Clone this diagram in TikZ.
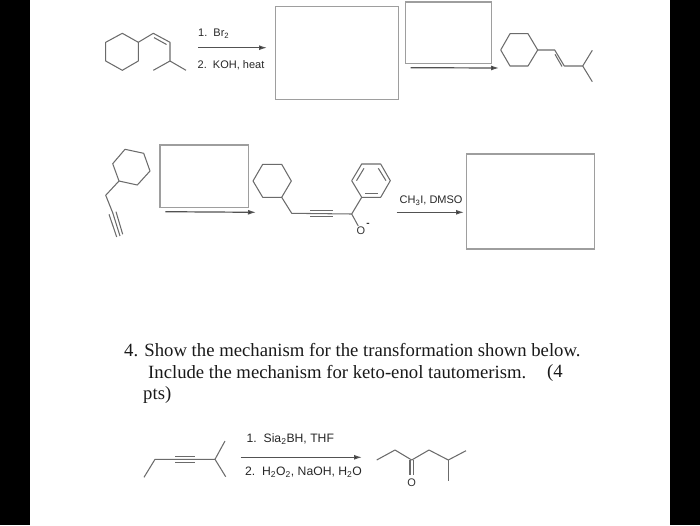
\documentclass[tikz,border=0pt]{standalone}
\usepackage{fontspec}
\setmainfont{Liberation Serif}
\setsansfont{Liberation Sans}
\usetikzlibrary{arrows.meta}
\tikzset{
    bond/.style={draw=black!58, line width=1.05pt, line join=round},
    answerbox/.style={draw=black!38, line width=1.1pt, fill=white, inner sep=0pt},
    rxnarrow/.style={draw=black!68, line width=1.2pt, -{Latex[length=8pt,width=5pt,fill=black!90]}},
    reagent/.style={font=\sffamily\fontsize{11}{13}\selectfont, text=black!85, anchor=west, inner sep=0pt},
    bigreagent/.style={reagent, font=\sffamily\fontsize{12.2}{14}\selectfont},
    question/.style={font=\fontsize{18.7}{22}\selectfont, text=black!90, anchor=west, inner sep=0pt},
    atom/.style={font=\sffamily\fontsize{11}{13}\selectfont, text=black!80, inner sep=1pt}
}
\begin{document}
\begin{tikzpicture}[x=1pt,y=-1pt]
    \useasboundingbox (0,0) rectangle (700,525);
    % side bars
    \fill[black] (0,0) rectangle (30,525);
    \fill[black] (670,0) rectangle (700,525);

    % first row, answer boxes
    \draw[answerbox] (275.3,6.3) rectangle (398.7,99.5);
    \draw[answerbox] (405.7,2) rectangle (491.3,63.3);

    % starting alkene
    \draw[bond] (105.7,42.3) -- (122.3,33.3) -- (138.3,42.3) -- (138.3,61) -- (122.3,70.3) -- (105.7,61) -- cycle;
    \draw[bond] (138.3,42.3) -- (153.3,33.3) -- (170,42.3) -- (170,61) -- (153.3,70.3);
    \draw[bond] (170,61) -- (186,70.3);
    \draw[bond] (154,37.6) -- (166.5,44.5);

    \coordinate (brstart) at (198.3,47.7);
    \coordinate (brend) at (267,47.7);
    \draw[rxnarrow] (brstart) -- (brend);
    \node[reagent] (brone) at (198,34) {1.\ \ Br\textsubscript{2}};
    \node[reagent] (brtwo) at (197.5,65) {2.\ \ KOH, heat};

    \coordinate (emptystart) at (410.7,67.7);
    \coordinate (emptyend) at (499,68);
    \draw[rxnarrow] (emptystart) -- (emptyend);

    % product alkene
    \draw[bond] (510,33.7) -- (528,33.7) -- (537.7,50) -- (528,66) -- (510,66) -- (500.7,50) -- cycle;
    \draw[bond] (537.7,50) -- (554.7,50) -- (564.3,66) -- (582.7,66) -- (592.3,50.3);
    \draw[bond] (582.7,66) -- (592.3,81.7);
    \draw[bond] (555,54.3) -- (562,66.5);

    % second row, answer boxes
    \draw[answerbox] (160,145) rectangle (248.7,207.3);
    \draw[answerbox] (466.7,154) rectangle (594.3,249);

    % terminal alkyne
    \draw[bond] (125,149.3) -- (143.7,153.3) -- (150,171) -- (137.3,185) -- (119,181) -- (112.7,163.7) -- cycle;
    \draw[bond] (119,181) -- (105.7,195.3) -- (112.7,212.7) -- (120,236);
    \draw[bond] (109,214.3) -- (116.7,237);
    \draw[bond] (116,211.7) -- (122.7,234.3);

    \coordinate (alkstart) at (165.3,211.7);
    \coordinate (alkend) at (256,212.3);
    \draw[rxnarrow] (alkstart) -- (alkend);

    % alkoxide
    \draw[bond] (262.7,164.3) -- (281.7,164.3) -- (291.3,181) -- (281.7,197.3) -- (262.7,197.3) -- (253,181) -- cycle;
    \draw[bond] (281.7,197.3) -- (291.7,213.3) -- (351.7,214) -- (361.7,197.3);
    \draw[bond] (310,210.6) -- (333.3,210.6);
    \draw[bond] (310,216.6) -- (333.3,216.6);
    \draw[bond] (361.7,197.3) -- (351.7,180.7) -- (361.7,164) -- (380.7,164) -- (390.3,180.7) -- (380.7,197.3) -- cycle;
    \draw[bond] (356.5,180.7) -- (364,168.3);
    \draw[bond] (378.3,168.3) -- (386,180.7);
    \draw[bond] (365,193.3) -- (378.3,193.3);
    \node[atom] (oxide) at (361,231) {O};
    \node[atom, font=\sffamily\bfseries\fontsize{10}{11}\selectfont] (oxidecharge) at (368,224.5) {-};
    \draw[bond] (351.7,214) -- (oxide);

    \coordinate (mestart) at (396.7,212.3);
    \coordinate (meend) at (464,212.3);
    \draw[rxnarrow] (mestart) -- (meend);
    \node[reagent] (mereagent) at (399.5,201) {CH\textsubscript{3}I, DMSO};

    % question text
    \node[question] (qone) at (124,350) {4. Show the mechanism for the transformation shown below.};
    \node[question] (qtwo) at (148,372.5) {Include the mechanism for keto-enol tautomerism.};
    \node[question] (qpts) at (547,372.5) {(4};
    \node[question] (qthree) at (143,395) {pts)};

    % hydroboration alkyne
    \draw[bond] (144,477.3) -- (155,459.3) -- (215,459.3) -- (225,441);
    \draw[bond] (215,459.3) -- (225.7,476.7);
    \draw[bond] (175,456.3) -- (195,456.3);
    \draw[bond] (175,462.3) -- (195,462.3);

    \coordinate (siastart) at (240.7,457.3);
    \coordinate (siaend) at (362,457.3);
    \draw[rxnarrow] (siastart) -- (siaend);
    \node[bigreagent] (siaone) at (246.5,439) {1.\ \ Sia\textsubscript{2}BH, THF};
    \node[bigreagent] (siatwo) at (245,472) {2.\ \ H\textsubscript{2}O\textsubscript{2}, NaOH, H\textsubscript{2}O};

    % ketone
    \draw[bond] (376.7,460) -- (395,450) -- (411.7,460) -- (429,450) -- (448.3,460) -- (466,450.7);
    \draw[bond] (448.3,460) -- (448.3,481);
    \node[atom] (ketoxygen) at (411.7,482.5) {O};
    \draw[bond] (410,460) -- (410,475);
    \draw[bond] (413.5,460) -- (413.5,475);
\end{tikzpicture}
\end{document}
